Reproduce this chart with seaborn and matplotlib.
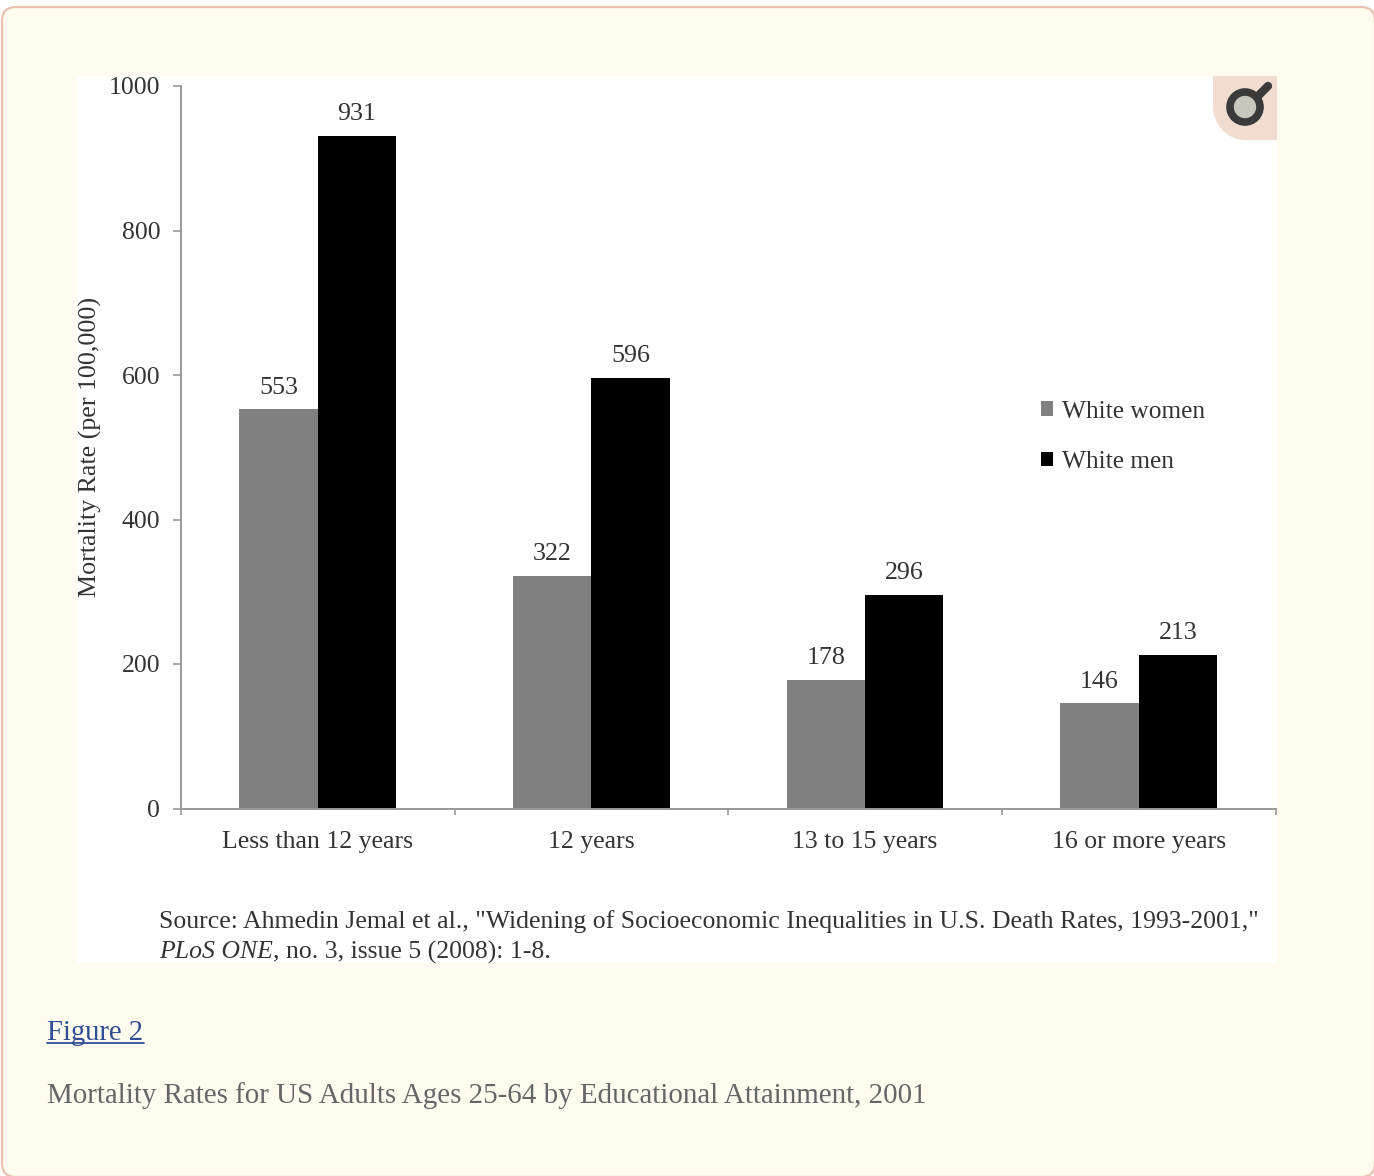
import matplotlib
matplotlib.use("Agg")
import matplotlib.pyplot as plt
from matplotlib.patches import FancyBboxPatch, Rectangle, Circle, PathPatch
from matplotlib.path import Path
import pandas as pd
import seaborn as sns

categories = ["Less than 12 years", "12 years", "13 to 15 years", "16 or more years"]
women = [553, 322, 178, 146]
men = [931, 596, 296, 213]
series_names = ["White women", "White men"]
yticks = [0, 200, 400, 600, 800, 1000]

W, H = 1374, 1176
sns.set_theme(style="white")
plt.rcParams["font.family"] = ["Liberation Serif", "DejaVu Serif"]

fig = plt.figure(figsize=(W / 100, H / 100), dpi=100, facecolor="white")

# page layer in pixel coordinates
bg = fig.add_axes([0, 0, 1, 1], zorder=0)
bg.set_xlim(0, W)
bg.set_ylim(H, 0)
bg.axis("off")
bg.add_patch(FancyBboxPatch((2, 7), 1373, 1170, boxstyle="round,pad=0,rounding_size=14",
                            fc="#FFFBEF", ec="#E8C2AE", lw=1.6))
bg.add_patch(Rectangle((77, 76), 1200, 887, fc="white", ec="none"))

TXT = "#333333"
FS = 18.5
# chart
left, right, top, bottom = 181, 1275.5, 86, 808.5
ax = fig.add_axes([left / W, 1 - bottom / H, (right - left) / W, (bottom - top) / H], zorder=1)
ax.patch.set_alpha(0)
df = pd.DataFrame({
    "category": categories * 2,
    "rate": women + men,
    "series": [series_names[0]] * 4 + [series_names[1]] * 4,
})
sns.barplot(data=df, x="category", y="rate", hue="series", order=categories, hue_order=series_names,
            palette=["#808080", "#000000"], width=0.573, gap=0, saturation=1, linewidth=0, ax=ax)
ax.set_xlim(-0.5, 3.5)
ax.set_ylim(0, 1000)
ax.set_xlabel("")
ax.set_ylabel("Mortality Rate (per 100,000)", fontsize=18.7, color=TXT, labelpad=0)
ax.yaxis.set_label_coords((102 - left) / (right - left), 0.5)
ax.set_yticks(yticks)
ax.tick_params(axis="y", length=6, width=1.2, color="#999999", left=True, labelsize=FS,
               labelcolor=TXT, pad=9)
ax.set_xticks([-0.5, 0.5, 1.5, 2.5, 3.5], minor=True)
ax.tick_params(axis="x", which="minor", length=4, width=1.2, color="#999999", bottom=True)
ax.tick_params(axis="x", which="major", length=0, labelsize=FS, labelcolor=TXT, pad=16.5)
for s in ["top", "right"]:
    ax.spines[s].set_visible(False)
for s in ["left", "bottom"]:
    ax.spines[s].set_color("#999999")
    ax.spines[s].set_linewidth(1.4)
for c in ax.containers:
    ax.bar_label(c, padding=7.5, fontsize=18.7, color=TXT)
handles, labels = ax.get_legend_handles_labels()
ax.legend(handles, labels, loc="upper left", bbox_to_anchor=((1033 - left) / (right - left), 1 - (393 - top) / (bottom - top)),
          frameon=False, fontsize=18.25, labelcolor=TXT, handlelength=0.5, handleheight=0.5,
          handletextpad=0.35, labelspacing=1.12, borderpad=0.3, borderaxespad=0)

# overlay text and badge
fg = fig.add_axes([0, 0, 1, 1], zorder=2)
fg.set_xlim(0, W)
fg.set_ylim(H, 0)
fg.axis("off")
fg.patch.set_alpha(0)
fg.text(159, 922, 'Source: Ahmedin Jemal et al., "Widening of Socioeconomic Inequalities in U.S. Death Rates, 1993-2001,"',
        fontsize=18.52, color=TXT, va="center", ha="left")
t1 = fg.text(159, 952, "PLoS ONE", fontsize=18.52, color=TXT, va="center", ha="left", style="italic")
fg.annotate(", no. 3, issue 5 (2008): 1-8.", xy=(1, 0.5), xycoords=t1, fontsize=18.52, color=TXT,
            va="center", ha="left")
link = fg.text(47, 1033, "Figure 2", fontsize=20.6, color="#2F4F94", va="center", ha="left")
fg.plot([47, 143.5], [1042.5, 1042.5], color="#2F4F94", lw=1.3)
fg.text(47, 1096, "Mortality Rates for US Adults Ages 25-64 by Educational Attainment, 2001",
        fontsize=20.85, color="#666666", va="center", ha="left")

# badge
verts = [(1213, 76), (1277, 76), (1277, 140), (1245, 140), (1226, 140), (1213, 122), (1213, 108), (1213, 76)]
codes = [Path.MOVETO, Path.LINETO, Path.LINETO, Path.LINETO, Path.CURVE4, Path.CURVE4, Path.CURVE4, Path.LINETO]
fg.add_patch(PathPatch(Path(verts, codes), fc="#F2DCCF", ec="none"))
fg.plot([1258, 1268], [96, 86], color="#3a3a3a", lw=6, solid_capstyle="round")
fg.add_patch(Circle((1245, 107), 15, fc="#C9C6BE", ec="#3a3a3a", lw=5.5))

fig.savefig("out.png", dpi=100, facecolor="white")
